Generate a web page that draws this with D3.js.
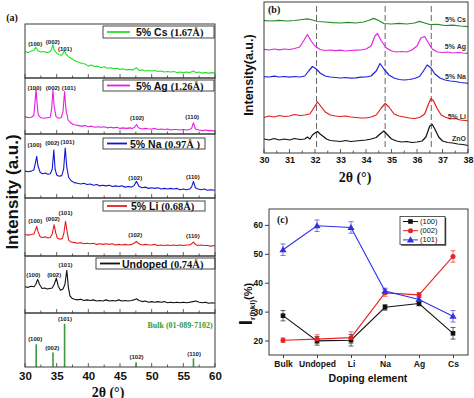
<!DOCTYPE html>
<html>
<head>
<meta charset="utf-8">
<script src="https://cdnjs.cloudflare.com/ajax/libs/d3/7.8.5/d3.min.js"></script>
<style>
  body { margin: 0; background: #fff; }
  svg { display: block; }
  text { font-family: Arial, "Liberation Sans", sans-serif; font-weight: bold; }
  .serif { font-family: "Liberation Serif", "Times New Roman", serif; }
</style>
</head>
<body>
<div id="chart"></div>
<script>
// ---------- data ----------
// (a) XRD patterns, intensity in % of each strip height
var aNames = ["5%  Cs ", "5%  Ag ", "5% Na ", "5% Li  ", "Undoped  "];
var aRadii = ["(1.67\u00C5)", "(1.26\u00C5)", "(0.97\u00C5 )", "(0.68\u00C5)", "(0.74\u00C5)"];
var aColors = ["#25e025", "#e41ee4", "#1414d4", "#e41c1c", "#111111"];

var csA = [[30,49],[30.5,47],[31,50],[31.4,51],[31.7,57],[32,51],[32.5,48],[33,49],[33.5,47],[34,49],[34.2,53],[34.4,62],[34.6,52],[35,46],[35.4,43],[35.8,42],[36,45],[36.2,51],[36.5,44],[37,38],[37.5,35],[38,31],[38.5,29],[39,27],[39.5,26],[40,22],[40.5,24],[41,21],[41.5,22],[42,19],[42.5,21],[43,18],[43.5,19],[44,17],[44.5,18],[45,16],[45.5,17],[46,15],[46.5,16],[47,15],[47.6,19],[48,14],[48.5,15],[49,13],[49.5,14],[50,13],[50.5,14],[51,12],[51.5,13],[52,11],[52.5,12],[53,11],[53.5,12],[54,10],[54.5,11],[55,10],[55.5,11],[56,10],[56.6,13],[57,10],[57.5,11],[58,9],[58.5,10],[59,9],[59.5,10],[60,9]];
var agA = [[30,31],[30.5,29],[31,30],[31.4,33],[31.6,60],[31.75,80],[31.9,55],[32.1,34],[32.5,29],[33,28],[33.5,29],[34,30],[34.2,45],[34.42,78],[34.6,50],[34.9,31],[35.3,28],[35.7,29],[36,40],[36.25,76],[36.45,45],[36.8,25],[37.2,20],[37.6,17],[38,16],[38.5,15],[39,14],[39.5,15],[40,13],[40.5,14],[41,12],[41.5,13],[42,12],[42.5,13],[43,11],[43.5,12],[44,11],[44.5,12],[45,10],[45.5,11],[46,10],[46.5,11],[47,10],[47.3,12],[47.6,17],[47.9,11],[48.5,9],[49,10],[49.5,9],[50,9],[50.5,10],[51,8],[51.5,9],[52,8],[52.5,9],[53,7],[53.5,8],[54,8],[54.5,7],[55,8],[55.5,7],[56,8],[56.3,10],[56.6,20],[56.9,9],[57.5,7],[58,6],[58.5,7],[59,6],[59.5,6],[60,5]];
var naA = [[30,42],[30.5,41],[31,42],[31.4,44],[31.65,55],[31.85,65],[32.05,50],[32.4,40],[32.8,38],[33.2,39],[33.6,37],[34,38],[34.3,45],[34.55,75],[34.75,45],[35,36],[35.4,34],[35.8,35],[36.1,45],[36.35,78],[36.6,48],[36.9,32],[37.3,27],[37.8,24],[38.3,23],[38.8,22],[39.3,23],[39.8,21],[40.3,22],[40.8,20],[41.3,21],[41.8,19],[42.3,20],[42.8,19],[43.3,20],[43.8,18],[44.3,19],[44.8,18],[45.3,19],[45.8,17],[46.3,18],[46.8,17],[47.2,19],[47.6,26],[48,18],[48.5,16],[49,17],[49.5,15],[50,16],[50.5,15],[51,16],[51.5,14],[52,15],[52.5,14],[53,15],[53.5,14],[54,15],[54.5,13],[55,14],[55.5,13],[56,14],[56.3,17],[56.6,26],[56.9,16],[57.3,14],[57.8,13],[58.3,14],[58.8,12],[59.3,13],[60,12]];
var liA = [[30,37],[30.5,36],[31,37],[31.4,38],[31.65,45],[31.85,51],[32.05,42],[32.4,33],[32.8,32],[33.2,33],[33.6,31],[34,32],[34.3,38],[34.6,54],[34.85,40],[35.1,31],[35.5,29],[35.9,30],[36.15,40],[36.4,60],[36.65,42],[36.9,27],[37.3,24],[37.8,23],[38.3,22],[38.8,23],[39.3,21],[39.8,22],[40.3,21],[40.8,22],[41.3,20],[41.8,21],[42.3,20],[42.8,21],[43.3,20],[43.8,21],[44.3,19],[44.8,20],[45.3,19],[45.8,20],[46.3,19],[46.8,20],[47.2,22],[47.6,25],[48,21],[48.5,19],[49,20],[49.5,19],[50,19],[50.5,20],[51,18],[51.5,19],[52,18],[52.5,19],[53,18],[53.5,19],[54,18],[54.5,19],[55,18],[55.5,19],[56,19],[56.3,21],[56.6,24],[56.9,20],[57.3,18],[57.8,19],[58.3,18],[58.8,18],[59.3,17],[60,18]];
var undopedA = [[30,46],[30.5,45],[31,47],[31.4,46],[31.7,50],[32,59],[32.3,50],[32.7,43],[33.1,44],[33.5,42],[33.9,43],[34.3,44],[34.6,50],[34.95,61],[35.25,47],[35.6,40],[36,42],[36.3,50],[36.6,75],[36.85,45],[37.1,30],[37.4,26],[37.8,24],[38.3,23],[38.8,24],[39.3,22],[39.8,23],[40.3,22],[40.8,23],[41.3,21],[41.8,22],[42.3,21],[42.8,23],[43.3,21],[43.8,22],[44.3,21],[44.8,23],[45.3,21],[45.8,22],[46.3,21],[46.8,22],[47.2,23],[47.6,25],[48,22],[48.5,20],[49,21],[49.5,19],[50,20],[50.5,19],[51,20],[51.5,19],[52,20],[52.5,18],[53,19],[53.5,18],[54,19],[54.5,18],[55,19],[55.5,18],[56,19],[56.5,20],[57,21],[57.5,19],[58,18],[58.5,19],[59,17],[59.5,18],[60,17]];
var aSpectra = [csA, agA, naA, liA, undopedA];

// bulk reference (01-089-7102)
var bulkPos = [31.77, 34.42, 36.25, 47.54, 56.6];
var bulkInt = [42, 27, 80, 9, 16];

// peak labels: [2theta, intensity %, text]
var aPeakLabels = [
  [[31.6,63,"(100)"],[34.4,67,"(002)"],[36.3,53,"(101)"]],
  [[31.5,82,"(100)"],[34.4,82,"(002)"],[36.9,82,"(101)"],[47.7,29,"(102)"],[56.4,30,"(110)"]],
  [[31.5,83,"(100)"],[34.3,86,"(002)"],[36.7,88,"(101)"],[47.4,31,"(102)"],[56.5,33,"(110)"]],
  [[31.6,60,"(100)"],[34.4,64,"(002)"],[36.4,75,"(101)"],[47.4,37,"(102)"],[56.5,34,"(110)"]],
  [[31.3,67,"(100)"],[34.6,67,"(002)"],[36.4,85,"(101)"]],
  [[31.6,52,"(100)"],[34.3,35,"(002)"],[36.3,88,"(101)"],[47.6,18,"(102)"],[56.7,24,"(110)"]]
];

// (b) zoomed patterns 30-38 deg, offset intensity (a.u.)
var bNames = ["5% Cs", "5% Ag", "5% Na", "5% Li", "ZnO"];
var bColors = ["#2a8a2a", "#e028e0", "#2222dd", "#e41c1c", "#111111"];
var bLabelY = [134, 107, 77, 37, 15];
var bRef = [32.06, 34.75, 36.56];
var csB = [[30,132.3],[30.3,132],[30.6,132.6],[30.9,132],[31.2,132.5],[31.5,133.5],[31.7,134.2],[31.9,133],[32.1,131.5],[32.4,131],[32.7,130.4],[33,130],[33.3,130.6],[33.6,130],[33.9,131],[34.1,132.5],[34.3,134.6],[34.5,132.5],[34.7,129.5],[35,129],[35.3,129.6],[35.6,129],[35.9,130],[36.1,131.6],[36.3,130],[36.5,128.5],[36.8,128.6],[37.1,127.5],[37.4,127.9],[37.7,127],[38,126.3]];
var agB = [[30,103.7],[30.2,103],[30.4,104],[30.6,103.2],[30.8,104],[31,103.5],[31.2,104.5],[31.4,106],[31.55,112],[31.7,118.5],[31.85,112],[32,107],[32.2,103.5],[32.4,102.5],[32.6,103],[32.8,102.3],[33,102.8],[33.2,102],[33.4,102.5],[33.6,102.8],[33.8,103],[34,104],[34.2,107],[34.35,117],[34.45,119.5],[34.6,112],[34.8,105],[35,102],[35.2,101],[35.4,101.5],[35.6,101],[35.8,103],[36,107],[36.15,115],[36.3,116.5],[36.45,110],[36.6,104],[36.8,101],[37,100.5],[37.2,101],[37.4,100],[37.6,100.5],[37.8,100],[38,99.7]];
var naB = [[30,76.3],[30.2,76],[30.4,76.8],[30.6,76],[30.8,76.5],[31,75.8],[31.2,76.5],[31.4,76],[31.6,77],[31.75,82],[31.9,86.5],[32.05,84],[32.2,80],[32.4,77],[32.6,76],[32.8,75.5],[33,75],[33.2,75.5],[33.4,74.8],[33.6,75.2],[33.8,75.8],[34,76],[34.2,77],[34.4,82],[34.55,89.5],[34.7,84],[34.9,78],[35.1,75],[35.3,73.5],[35.5,73],[35.7,73.5],[35.9,74.5],[36.1,76.5],[36.25,82],[36.4,88],[36.55,85],[36.7,79],[36.9,75],[37.1,73],[37.3,72],[37.5,71.5],[37.7,70.5],[37.9,70],[38,69.7]];
var liB = [[30,35.5],[30.2,37],[30.4,36],[30.6,37.5],[30.8,36.5],[31,37],[31.2,38.5],[31.4,37.5],[31.6,38],[31.8,39],[31.95,45],[32.1,51],[32.25,46],[32.4,41],[32.6,38],[32.8,37],[33,36.5],[33.2,37],[33.4,36],[33.6,35.5],[33.8,35],[34,35],[34.2,36],[34.4,38],[34.6,45],[34.75,49.5],[34.9,46],[35.1,39],[35.3,37],[35.5,36],[35.7,35],[35.9,34.5],[36.1,35.5],[36.3,39],[36.45,49],[36.55,54.5],[36.65,52],[36.8,44],[36.95,38],[37.1,36],[37.3,34],[37.5,34.5],[37.7,33],[37.9,32.5],[38,32]];
var znoB = [[30,14],[30.2,13],[30.4,14.5],[30.6,13],[30.8,14],[31,13],[31.2,14.5],[31.4,13.5],[31.6,14],[31.7,16],[31.8,14],[31.9,18],[32,20],[32.1,21.5],[32.2,19],[32.3,17],[32.45,14],[32.6,12.5],[32.8,12],[33,11.5],[33.2,12.5],[33.4,11.5],[33.6,12],[33.8,12.5],[34,13],[34.2,14],[34.4,15.5],[34.55,19],[34.7,22],[34.85,18],[35,14],[35.2,12],[35.4,11],[35.6,11.5],[35.8,10.5],[36,11],[36.2,12],[36.35,16],[36.5,27],[36.6,28.5],[36.7,24],[36.85,16],[37,12],[37.2,10.5],[37.4,10],[37.6,9],[37.8,8.5],[38,7.5]];
var bSpectra = [csB, agB, naB, liB, znoB];

// (c) relative intensity of planes
var dopants = ["Bulk", "Undoped", "Li", "Na", "Ag", "Cs"];
var planes = ["(100)", "(002)", "(101)"];
var i100 = [28.6, 19.9, 20.1, 31.5, 32.8, 22.5];
var i002 = [20.1, 20.5, 21.0, 36.5, 35.8, 49.1];
var i101 = [51.4, 59.7, 59.1, 37.1, 34.2, 28.4];
var e100 = [1.8, 1.5, 2.0, 1.0, 0.8, 2.0];
var e002 = [0.8, 1.5, 2.0, 1.2, 0.8, 2.0];
var e101 = [2.0, 2.0, 2.0, 1.0, 0.8, 2.0];
var cColors = ["#111111", "#e82222", "#3030e8"];
var cTicks = [20, 30, 40, 50, 60];

// ---------- canvas ----------
var width = 474, height = 398;
var svg = d3.select("#chart").append("svg")
  .attr("width", width).attr("height", height);

var frameColor = "#3a3a3a";

// ============ panel (a) ============
var aLeft = 25, aRight = 215;
var aTops = [24, 78, 134, 198, 256, 313], aBottom = 367;
var xA = d3.scaleLinear().domain([30, 60]).range([aLeft, aRight]);

// legend box layout per strip: [x0, x1, y0, y1, line0, line1, textX]
var aLegBox = [
  [103, 214, 26, 38, 107, 130, 136],
  [103, 214, 80, 91, 107, 130, 136],
  [103, 205, 138, 149, 107, 127, 130],
  [103, 205, 201, 211, 107, 127, 131],
  [96, 215, 258, 269, 100, 120, 122]
];

function drawStrip(k) {
  var stripTop = aTops[k], stripBot = (k < 5) ? aTops[k + 1] : aBottom;
  var yA = d3.scaleLinear().domain([0, 100]).range([stripBot, stripTop]);
  var g = svg.append("g");

  // ticks inward on strip bottom
  d3.range(30, 60.01, 2.5).forEach(function(t) {
    var major = (t % 5 === 0);
    g.append("line")
      .attr("x1", xA(t)).attr("x2", xA(t))
      .attr("y1", stripBot).attr("y2", stripBot - (major ? 4 : 2.5))
      .attr("stroke", frameColor).attr("stroke-width", 0.8);
  });

  if (k < 5) {
    var lineA = d3.line()
      .x(function(d) { return xA(d[0]); })
      .y(function(d) { return yA(d[1]); });
    g.append("path")
      .datum(aSpectra[k])
      .attr("d", lineA)
      .attr("fill", "none")
      .attr("stroke", aColors[k])
      .attr("stroke-width", 1.1)
      .attr("stroke-linejoin", "round");

    var lb = aLegBox[k];
    g.append("rect")
      .attr("x", lb[0]).attr("y", lb[2])
      .attr("width", lb[1] - lb[0]).attr("height", lb[3] - lb[2])
      .attr("fill", "#fff").attr("stroke", "#333").attr("stroke-width", 0.9);
    g.append("line")
      .attr("x1", lb[4]).attr("x2", lb[5])
      .attr("y1", (lb[2] + lb[3]) / 2).attr("y2", (lb[2] + lb[3]) / 2)
      .attr("stroke", aColors[k]).attr("stroke-width", 1.8);
    var lt = g.append("text")
      .attr("x", lb[6]).attr("y", (lb[2] + lb[3]) / 2)
      .attr("dominant-baseline", "central")
      .attr("font-size", 10.5)
      .attr("fill", "#111");
    lt.append("tspan").text(aNames[k]);
    lt.append("tspan").attr("class", "serif").attr("font-size", 10.5).text(aRadii[k]);
  } else {
    // bulk sticks
    g.selectAll("line.stick").data(bulkPos).enter()
      .append("line")
      .attr("class", "stick")
      .attr("x1", function(d) { return xA(d); })
      .attr("x2", function(d) { return xA(d); })
      .attr("y1", yA(0))
      .attr("y2", function(d, i) { return yA(bulkInt[i]); })
      .attr("stroke", "#3c9a3c").attr("stroke-width", 1.6);
    g.append("text")
      .attr("class", "serif")
      .attr("x", 180).attr("y", 325)
      .attr("text-anchor", "middle").attr("dominant-baseline", "central")
      .attr("font-size", 8).attr("fill", "#3a9a3a")
      .text("Bulk (01-089-7102)");
  }

  g.selectAll("text.pk").data(aPeakLabels[k]).enter()
    .append("text")
    .attr("class", "pk")
    .attr("x", function(d) { return xA(d[0]); })
    .attr("y", function(d) { return yA(d[1]); })
    .attr("text-anchor", "middle").attr("dominant-baseline", "central")
    .attr("font-size", 6).attr("fill", "#222")
    .text(function(d) { return d[2]; });

  g.append("rect")
    .attr("x", aLeft).attr("y", stripTop)
    .attr("width", aRight - aLeft).attr("height", stripBot - stripTop)
    .attr("fill", "none").attr("stroke", frameColor).attr("stroke-width", 1);
}
for (var k = 0; k < 6; k++) drawStrip(k);

// bottom axis labels of (a)
var xAxisA = d3.axisBottom(xA).tickValues([30, 35, 40, 45, 50, 55, 60]).tickSize(0).tickPadding(5);
var gxA = svg.append("g").attr("transform", "translate(0," + aBottom + ")").call(xAxisA);
gxA.select(".domain").remove();
gxA.selectAll("text").attr("font-size", 11.5).attr("fill", "#111")
  .style("font-family", "Arial, 'Liberation Sans', sans-serif").style("font-weight", "bold");

svg.append("text").attr("class", "serif")
  .attr("x", 108).attr("y", 392)
  .attr("text-anchor", "middle").attr("dominant-baseline", "central")
  .attr("font-size", 14).attr("fill", "#111")
  .text("2\u03B8 (\u00B0)");

svg.append("text")
  .attr("transform", "translate(12,192) rotate(-90)")
  .attr("text-anchor", "middle").attr("dominant-baseline", "central")
  .attr("font-size", 17).attr("fill", "#111")
  .text("Intensity (a.u.)");

svg.append("text").attr("class", "serif")
  .attr("x", 12).attr("y", 17)
  .attr("text-anchor", "middle").attr("dominant-baseline", "central")
  .attr("font-size", 10).attr("fill", "#111")
  .text("(a)");

// ============ panel (b) ============
var bL = 264, bR = 468, bT = 2, bB = 153;
var xB = d3.scaleLinear().domain([30, 38]).range([bL, bR]);
var yB = d3.scaleLinear().domain([0, 151]).range([bB, bT]);
var gb = svg.append("g");

gb.selectAll("line.ref").data(bRef).enter()
  .append("line")
  .attr("x1", function(d) { return xB(d); })
  .attr("x2", function(d) { return xB(d); })
  .attr("y1", bT + 4).attr("y2", bB - 4)
  .attr("stroke", "#666").attr("stroke-width", 1)
  .attr("stroke-dasharray", "6,3");

var lineB = d3.line().x(function(d) { return xB(d[0]); }).y(function(d) { return yB(d[1]); });
gb.selectAll("path.spec").data(bSpectra).enter()
  .append("path")
  .attr("class", "spec")
  .attr("d", lineB)
  .attr("fill", "none")
  .attr("stroke", function(d, i) { return bColors[i]; })
  .attr("stroke-width", 1.2)
  .attr("stroke-linejoin", "round");

gb.selectAll("text.bl").data(bNames).enter()
  .append("text")
  .attr("class", "bl")
  .attr("x", bR - 2)
  .attr("y", function(d, i) { return yB(bLabelY[i]); })
  .attr("text-anchor", "end").attr("dominant-baseline", "central")
  .attr("font-size", 7).attr("fill", "#333")
  .text(function(d) { return d; });

d3.range(30, 38.01, 0.5).forEach(function(t) {
  gb.append("line")
    .attr("x1", xB(t)).attr("x2", xB(t))
    .attr("y1", bB).attr("y2", bB - (t % 1 === 0 ? 4 : 2.5))
    .attr("stroke", frameColor).attr("stroke-width", 0.8);
});

var gxB = gb.append("g").attr("transform", "translate(0," + bB + ")")
  .call(d3.axisBottom(xB).ticks(8).tickSize(0).tickPadding(4));
gxB.select(".domain").remove();
gxB.selectAll("text").attr("font-size", 9).attr("fill", "#111")
  .style("font-family", "Arial, 'Liberation Sans', sans-serif").style("font-weight", "bold");

gb.append("rect")
  .attr("x", bL).attr("y", bT).attr("width", bR - bL).attr("height", bB - bT)
  .attr("fill", "none").attr("stroke", frameColor).attr("stroke-width", 1);

gb.append("text").attr("class", "serif")
  .attr("x", 355).attr("y", 177)
  .attr("text-anchor", "middle").attr("dominant-baseline", "central")
  .attr("font-size", 14).attr("fill", "#111")
  .text("2\u03B8 (\u00B0)");

gb.append("text")
  .attr("transform", "translate(249,75) rotate(-90)")
  .attr("text-anchor", "middle").attr("dominant-baseline", "central")
  .attr("font-size", 12.5).attr("fill", "#111")
  .text("Intensity(a.u.)");

gb.append("text").attr("class", "serif")
  .attr("x", 268).attr("y", 9)
  .attr("dominant-baseline", "central")
  .attr("font-size", 10).attr("fill", "#111")
  .text("(b)");

// ============ panel (c) ============
var cL = 269, cR = 468, cT = 209, cB = 355;
var xC = d3.scalePoint().domain(dopants).range([283, 453]);
var yC = d3.scaleLinear().domain([15, 65.5]).range([cB, cT]);
var gc = svg.append("g");

var cSeries = [
  { v: i100, e: e100 },
  { v: i002, e: e002 },
  { v: i101, e: e101 }
];

var lineC = d3.line().x(function(d, i) { return xC(dopants[i]); }).y(function(d) { return yC(d); });

cSeries.forEach(function(s, si) {
  var col = cColors[si];
  gc.append("path").datum(s.v)
    .attr("d", lineC)
    .attr("fill", "none").attr("stroke", col).attr("stroke-width", 1.1);

  s.v.forEach(function(v, i) {
    var x = xC(dopants[i]);
    var lo = yC(v - s.e[i]), hi = yC(v + s.e[i]);
    gc.append("line").attr("x1", x).attr("x2", x).attr("y1", lo).attr("y2", hi)
      .attr("stroke", col).attr("stroke-width", 0.8).attr("opacity", 0.8);
    [lo, hi].forEach(function(yy) {
      gc.append("line").attr("x1", x - 2.5).attr("x2", x + 2.5).attr("y1", yy).attr("y2", yy)
        .attr("stroke", col).attr("stroke-width", 0.8).attr("opacity", 0.8);
    });
  });
});

function drawMarker(sel, si, x, y) {
  if (si === 0) {
    sel.append("rect").attr("x", x - 2.3).attr("y", y - 2.3).attr("width", 4.6).attr("height", 4.6)
      .attr("fill", cColors[0]);
  } else if (si === 1) {
    sel.append("circle").attr("cx", x).attr("cy", y).attr("r", 2.5).attr("fill", cColors[1]);
  } else {
    sel.append("path")
      .attr("d", d3.symbol().type(d3.symbolTriangle).size(22)())
      .attr("transform", "translate(" + x + "," + (y + 0.5) + ")")
      .attr("fill", cColors[2]);
  }
}

cSeries.forEach(function(s, si) {
  s.v.forEach(function(v, i) {
    drawMarker(gc, si, xC(dopants[i]), yC(v));
  });
});

// axes of (c)
var gyC = gc.append("g").attr("transform", "translate(" + cL + ",0)")
  .call(d3.axisLeft(yC).tickValues(cTicks).tickSize(4).tickPadding(2));
gyC.select(".domain").remove();
gyC.selectAll("line").attr("stroke", frameColor);
gyC.selectAll("text").attr("font-size", 8.5).attr("fill", "#111")
  .style("font-family", "Arial, 'Liberation Sans', sans-serif").style("font-weight", "bold");

var gxC = gc.append("g").attr("transform", "translate(0," + cB + ")")
  .call(d3.axisBottom(xC).tickSize(3).tickPadding(3));
gxC.select(".domain").remove();
gxC.selectAll("line").attr("stroke", frameColor);
gxC.selectAll("text").attr("font-size", 8.5).attr("fill", "#111")
  .style("font-family", "Arial, 'Liberation Sans', sans-serif").style("font-weight", "bold");

gc.append("rect")
  .attr("x", cL).attr("y", cT).attr("width", cR - cL).attr("height", cB - cT)
  .attr("fill", "none").attr("stroke", frameColor).attr("stroke-width", 1);

gc.append("text")
  .attr("x", 368).attr("y", 378)
  .attr("text-anchor", "middle").attr("dominant-baseline", "central")
  .attr("font-size", 10.5).attr("fill", "#111")
  .text("Doping element");

var yl = gc.append("text")
  .attr("transform", "translate(252,304) rotate(-90)")
  .attr("text-anchor", "middle")
  .attr("fill", "#111");
yl.append("tspan").attr("font-size", 19).text("I");
yl.append("tspan").attr("font-size", 8).attr("dy", 3).text("r(hkl)");
yl.append("tspan").attr("font-size", 11).attr("dy", -3).text("(%)");

gc.append("text").attr("class", "serif")
  .attr("x", 277).attr("y", 219)
  .attr("dominant-baseline", "central")
  .attr("font-size", 10).attr("fill", "#111")
  .text("(c)");

// legend of (c)
var lgx = 400, lgy = 216.5;
gc.append("rect").attr("x", lgx + 1.2).attr("y", lgy + 1.2).attr("width", 45).attr("height", 28)
  .attr("fill", "#333");
gc.append("rect").attr("x", lgx).attr("y", lgy).attr("width", 45).attr("height", 28)
  .attr("fill", "#fff").attr("stroke", "#333").attr("stroke-width", 0.8);
planes.forEach(function(p, si) {
  var yy = lgy + 5 + si * 9.2;
  gc.append("line").attr("x1", lgx + 3).attr("x2", lgx + 18).attr("y1", yy).attr("y2", yy)
    .attr("stroke", cColors[si]).attr("stroke-width", 1);
  drawMarker(gc, si, lgx + 10.5, yy);
  gc.append("text").attr("x", lgx + 20).attr("y", yy)
    .attr("dominant-baseline", "central")
    .attr("font-size", 7.5).style("font-weight", "normal").attr("fill", "#111")
    .text(p);
});
</script>
</body>
</html>
